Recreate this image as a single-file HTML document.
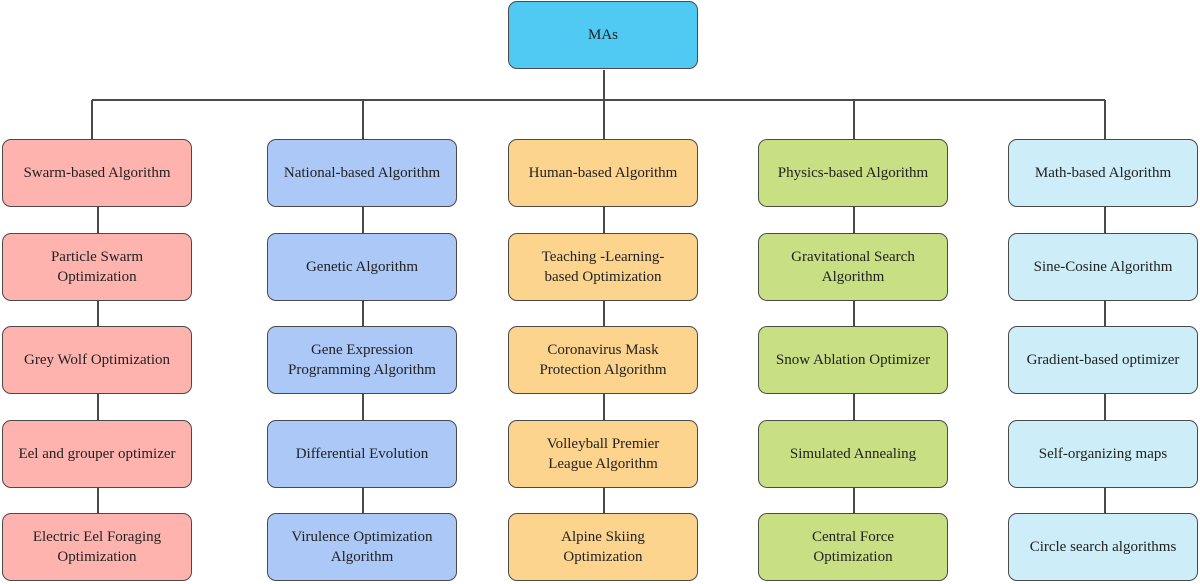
<!DOCTYPE html>
<html><head><meta charset="utf-8"><style>
body{margin:0;width:1200px;height:584px;background:#fff;position:relative;overflow:hidden;font-family:"Liberation Serif",serif;}
.b{position:absolute;width:188px;height:66px;border:1.5px solid #4a4a4a;border-radius:9px;display:flex;align-items:center;justify-content:center;text-align:center;font-size:15px;color:#222;line-height:20px;box-sizing:content-box;}
.l{position:absolute;background:#4a4a4a;}
.c1{background:#ffb3ae}.c2{background:#abc8f7}.c3{background:#fdd48e}.c4{background:#c9df83}.c5{background:#cdedf9}
</style></head><body>
<div class="l" style="left:92px;top:99px;width:1013px;height:1.5px"></div>
<div class="l" style="left:603px;top:70px;width:1.5px;height:70px"></div>
<div class="l" style="left:91px;top:100px;width:1.5px;height:40px"></div>
<div class="l" style="left:362px;top:100px;width:1.5px;height:40px"></div>
<div class="l" style="left:853px;top:100px;width:1.5px;height:40px"></div>
<div class="l" style="left:1104px;top:100px;width:1.5px;height:40px"></div>
<div class="l" style="left:97px;top:200px;width:1.5px;height:320px"></div>
<div class="l" style="left:362px;top:200px;width:1.5px;height:320px"></div>
<div class="l" style="left:603px;top:200px;width:1.5px;height:320px"></div>
<div class="l" style="left:853px;top:200px;width:1.5px;height:320px"></div>
<div class="l" style="left:1104px;top:200px;width:1.5px;height:320px"></div>
<div class="b" style="left:508px;top:1px;background:#50c9f3">MAs</div>

<div class="b c1" style="left:2px;top:139px">Swarm-based Algorithm</div>
<div class="b c1" style="left:2px;top:233px">Particle Swarm<br>Optimization</div>
<div class="b c1" style="left:2px;top:326px">Grey Wolf Optimization</div>
<div class="b c1" style="left:2px;top:420px">Eel and grouper optimizer</div>
<div class="b c1" style="left:2px;top:513px">Electric Eel Foraging<br>Optimization</div>

<div class="b c2" style="left:267px;top:139px">National-based Algorithm</div>
<div class="b c2" style="left:267px;top:233px">Genetic Algorithm</div>
<div class="b c2" style="left:267px;top:326px">Gene Expression<br>Programming Algorithm</div>
<div class="b c2" style="left:267px;top:420px">Differential Evolution</div>
<div class="b c2" style="left:267px;top:513px">Virulence Optimization<br>Algorithm</div>

<div class="b c3" style="left:508px;top:139px">Human-based Algorithm</div>
<div class="b c3" style="left:508px;top:233px">Teaching -Learning-<br>based Optimization</div>
<div class="b c3" style="left:508px;top:326px">Coronavirus Mask<br>Protection Algorithm</div>
<div class="b c3" style="left:508px;top:420px">Volleyball Premier<br>League Algorithm</div>
<div class="b c3" style="left:508px;top:513px">Alpine Skiing<br>Optimization</div>

<div class="b c4" style="left:758px;top:139px">Physics-based Algorithm</div>
<div class="b c4" style="left:758px;top:233px">Gravitational Search<br>Algorithm</div>
<div class="b c4" style="left:758px;top:326px">Snow Ablation Optimizer</div>
<div class="b c4" style="left:758px;top:420px">Simulated Annealing</div>
<div class="b c4" style="left:758px;top:513px">Central Force<br>Optimization</div>

<div class="b c5" style="left:1008px;top:139px">Math-based Algorithm</div>
<div class="b c5" style="left:1008px;top:233px">Sine-Cosine Algorithm</div>
<div class="b c5" style="left:1008px;top:326px">Gradient-based optimizer</div>
<div class="b c5" style="left:1008px;top:420px">Self-organizing maps</div>
<div class="b c5" style="left:1008px;top:513px">Circle search algorithms</div>
</body></html>
